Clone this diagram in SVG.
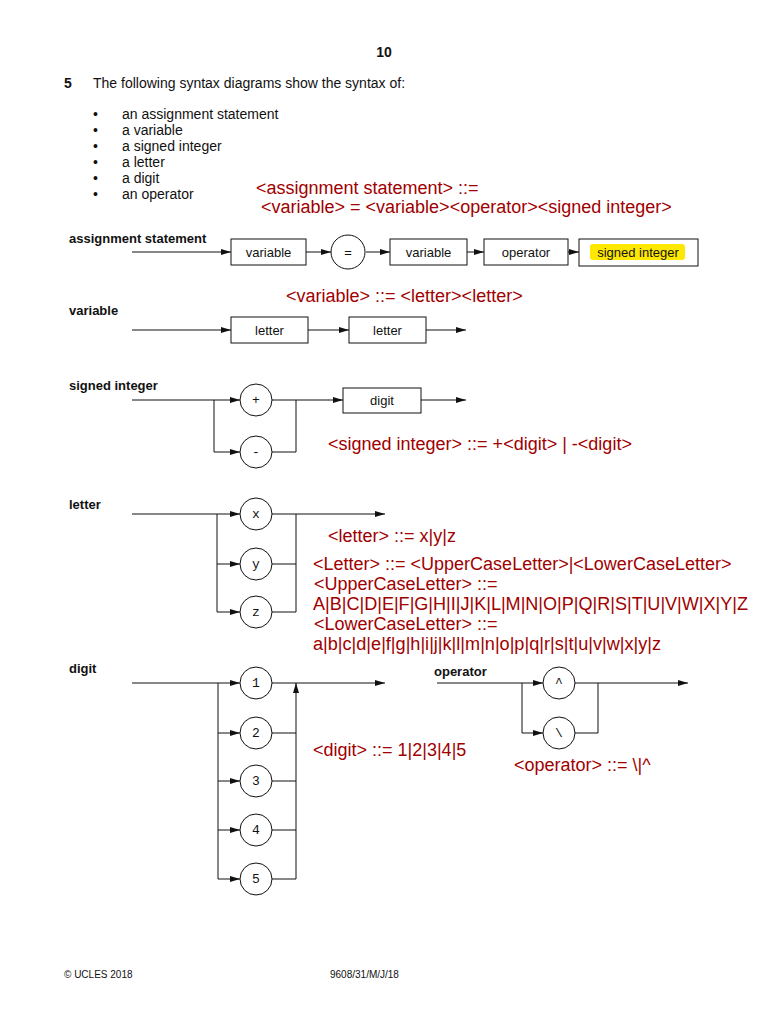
<svg xmlns="http://www.w3.org/2000/svg" width="768" height="1024" viewBox="0 0 768 1024">
<style>
text{font-family:"Liberation Sans",Arial,sans-serif;fill:#111}
.b{font-size:14px}
.lab{font-size:13px;font-weight:bold}
.bx{font-size:13px;text-anchor:middle}
.cm{font-family:"Liberation Mono",monospace;font-size:13px;text-anchor:middle}
.r{font-size:18px;fill:#a00000}
.f{font-size:10px}
rect,circle{fill:#fff;stroke:#111;stroke-width:1}
line,path{stroke:#111;stroke-width:1;fill:none}
path.ah{fill:#111;stroke:none}
</style>
<defs><marker id="a" viewBox="0 0 10 6" refX="10" refY="3" markerWidth="10" markerHeight="6" markerUnits="userSpaceOnUse" orient="auto"><path class="ah" d="M0,0L10,3L0,6z"/></marker></defs>
<rect width="768" height="1024" style="fill:#fff;stroke:none"/>
<text x="384" y="57" style="font-size:14px;font-weight:bold;text-anchor:middle">10</text>
<text x="64" y="88" class="b" style="font-weight:bold">5</text>
<text x="93" y="88" class="b">The following syntax diagrams show the syntax of:</text>
<g class="b">
<text x="93" y="119">•</text><text x="122" y="119">an assignment statement</text>
<text x="93" y="135">•</text><text x="122" y="135">a variable</text>
<text x="93" y="151">•</text><text x="122" y="151">a signed integer</text>
<text x="93" y="167">•</text><text x="122" y="167">a letter</text>
<text x="93" y="183">•</text><text x="122" y="183">a digit</text>
<text x="93" y="199">•</text><text x="122" y="199">an operator</text>
</g>
<g id="labels">
<text x="69" y="243" class="lab">assignment statement</text>
<text x="69" y="315" class="lab">variable</text>
<text x="69" y="390" class="lab">signed integer</text>
<text x="69" y="509" class="lab">letter</text>
<text x="69" y="673" class="lab">digit</text>
<text x="434" y="676" class="lab">operator</text>
</g>
<g id="connectors" marker-end="url(#a)">
<line x1="132" y1="252" x2="231" y2="252"/>
<line x1="306" y1="252" x2="331" y2="252"/>
<line x1="366" y1="252" x2="390" y2="252"/>
<line x1="467" y1="252" x2="484" y2="252"/>
<line x1="568" y1="252" x2="579" y2="252"/>
<line x1="132" y1="330" x2="231" y2="330"/>
<line x1="308" y1="330" x2="349" y2="330"/>
<line x1="426" y1="330" x2="466" y2="330"/>
<line x1="132" y1="400" x2="240" y2="400"/>
<path d="M214,400V452H240"/>
<path d="M272,400H343"/>
<path d="M272,452H296V400" marker-end="none"/>
<line x1="421" y1="400" x2="466" y2="400"/>
<line x1="132" y1="514" x2="240" y2="514"/>
<path d="M217,514V564H240"/>
<path d="M217,564V612H240"/>
<path d="M272,514H385"/>
<path d="M272,564H296" marker-end="none"/>
<path d="M272,612H296V514" marker-end="none"/>
<line x1="132" y1="683" x2="240" y2="683"/>
<path d="M218,683V733H240"/>
<path d="M218,733V781H240"/>
<path d="M218,781V830H240"/>
<path d="M218,830V879H240"/>
<path d="M272,683H385"/>
<path d="M272,733H296" marker-end="none"/>
<path d="M272,781H296" marker-end="none"/>
<path d="M272,830H296" marker-end="none"/>
<path d="M272,879H296V683"/>
<line x1="437" y1="683" x2="543" y2="683"/>
<path d="M522,683V733H543"/>
<path d="M575,683H688"/>
<path d="M575,733H598V683" marker-end="none"/>
</g>
<g id="n-variable1"><rect x="231" y="239" width="75" height="26"/><text x="268.5" y="257" class="bx">variable</text></g>
<g id="n-eq"><circle cx="348" cy="252" r="17"/><text x="348" y="257" class="bx">=</text></g>
<g id="n-variable2"><rect x="390" y="239" width="77" height="26"/><text x="428.5" y="257" class="bx">variable</text></g>
<g id="n-operator"><rect x="484" y="239" width="84" height="26"/><text x="526" y="257" class="bx">operator</text></g>
<g id="n-signed"><rect x="579" y="239" width="119" height="27"/><rect x="590" y="244" width="95" height="16" style="fill:#ffe800;stroke:none" rx="3"/><text x="638" y="257" class="bx">signed integer</text></g>
<g id="n-letter1"><rect x="231" y="317" width="77" height="26"/><text x="269.5" y="335" class="bx">letter</text></g>
<g id="n-letter2"><rect x="349" y="317" width="77" height="26"/><text x="387.5" y="335" class="bx">letter</text></g>
<g id="n-plus"><circle cx="256" cy="400" r="16"/><text x="256" y="404" class="cm">+</text></g>
<g id="n-minus"><circle cx="256" cy="452" r="16"/><text x="256" y="456" class="cm">-</text></g>
<g id="n-digit"><rect x="343" y="388" width="78" height="25"/><text x="382" y="405" class="bx">digit</text></g>
<g id="n-x"><circle cx="256" cy="514" r="16"/><text x="256" y="518" class="cm">x</text></g>
<g id="n-y"><circle cx="256" cy="564" r="16"/><text x="256" y="568" class="cm">y</text></g>
<g id="n-z"><circle cx="256" cy="612" r="16"/><text x="256" y="616" class="cm">z</text></g>
<g id="n-1"><circle cx="256" cy="683" r="16"/><text x="256" y="687" class="cm">1</text></g>
<g id="n-2"><circle cx="256" cy="733" r="16"/><text x="256" y="737" class="cm">2</text></g>
<g id="n-3"><circle cx="256" cy="781" r="16"/><text x="256" y="785" class="cm">3</text></g>
<g id="n-4"><circle cx="256" cy="830" r="16"/><text x="256" y="834" class="cm">4</text></g>
<g id="n-5"><circle cx="256" cy="879" r="16"/><text x="256" y="883" class="cm">5</text></g>
<g id="n-caret"><circle cx="559" cy="683" r="16"/><text x="559" y="687" class="cm">^</text></g>
<g id="n-bs"><circle cx="559" cy="733" r="16"/><text x="559" y="737" class="cm">\</text></g>
<g id="notes">
<text x="256" y="194" class="r">&lt;assignment statement&gt; ::=</text>
<text x="261" y="213" class="r">&lt;variable&gt; = &lt;variable&gt;&lt;operator&gt;&lt;signed integer&gt;</text>
<text x="286" y="302" class="r">&lt;variable&gt; ::= &lt;letter&gt;&lt;letter&gt;</text>
<text x="328" y="450" class="r">&lt;signed integer&gt; ::= +&lt;digit&gt; | -&lt;digit&gt;</text>
<text x="328" y="542" class="r">&lt;letter&gt; ::= x|y|z</text>
<text x="313" y="570" class="r">&lt;Letter&gt; ::= &lt;UpperCaseLetter&gt;|&lt;LowerCaseLetter&gt;</text>
<text x="314" y="590" class="r">&lt;UpperCaseLetter&gt; ::=</text>
<text x="313" y="610" class="r" textLength="435" lengthAdjust="spacingAndGlyphs">A|B|C|D|E|F|G|H|I|J|K|L|M|N|O|P|Q|R|S|T|U|V|W|X|Y|Z</text>
<text x="314" y="630" class="r">&lt;LowerCaseLetter&gt; ::=</text>
<text x="313" y="650" class="r" textLength="348" lengthAdjust="spacingAndGlyphs">a|b|c|d|e|f|g|h|i|j|k|l|m|n|o|p|q|r|s|t|u|v|w|x|y|z</text>
<text x="313" y="756" class="r">&lt;digit&gt; ::= 1|2|3|4|5</text>
<text x="514" y="771" class="r">&lt;operator&gt; ::= \|^</text>
</g>
<text x="64" y="978" class="f">© UCLES 2018</text>
<text x="330" y="978" class="f">9608/31/M/J/18</text>
</svg>
